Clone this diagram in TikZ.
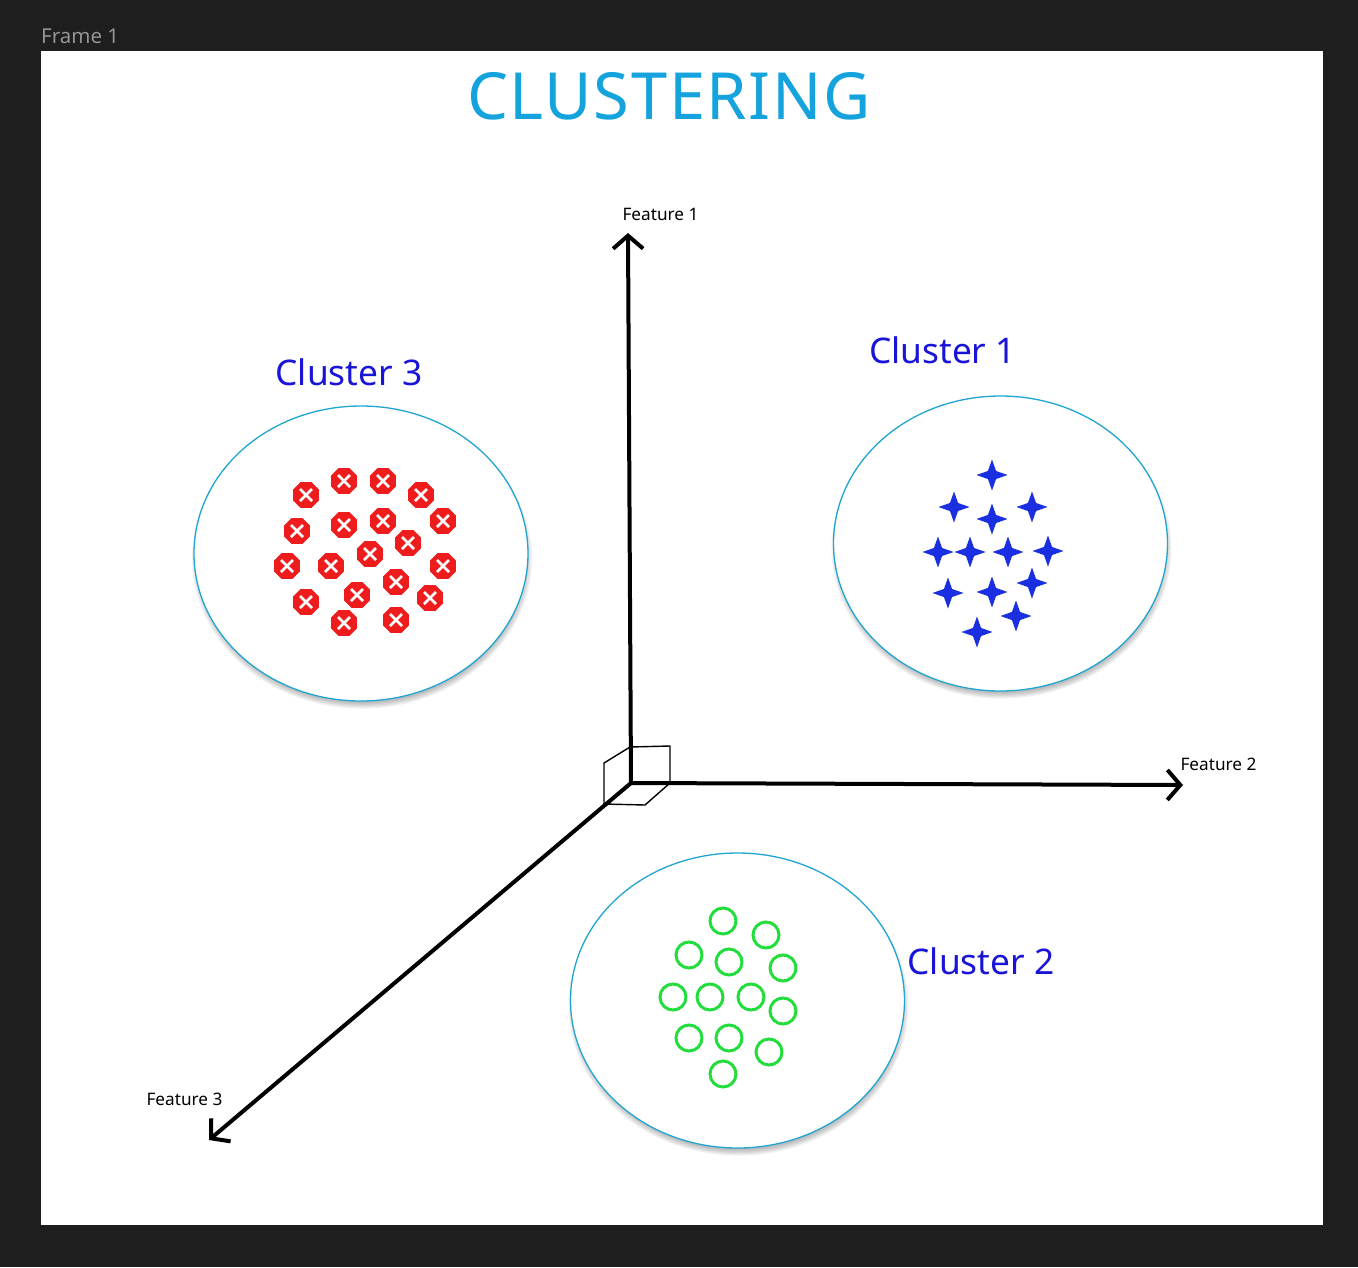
\documentclass[tikz,border=0pt]{standalone}
\usepackage{fontspec}
\setmainfont{Noto Sans}
\usetikzlibrary{shapes.geometric,arrows.meta}
\definecolor{framebg}{HTML}{1E1E1E}
\definecolor{titleblue}{HTML}{14A3DC}
\definecolor{clusterblue}{HTML}{1A14D8}
\definecolor{ringblue}{HTML}{1FA5D0}
\definecolor{starblue}{HTML}{1A2FE0}
\definecolor{crossred}{HTML}{EE1C1C}
\definecolor{ringgreen}{HTML}{22DD3C}
\tikzset{
  axis/.style={line width=4pt,-{Straight Barb[length=13pt,width=30pt,line width=4pt]}},
  cubeedge/.style={line width=1.4pt,black},
  clusterring/.style={ellipse,draw=ringblue,line width=1.3pt,fill=white,minimum width=334pt,minimum height=295pt,inner sep=0pt},
  clusterglow/.style={ellipse,fill=black,fill opacity=0.055,draw=none,minimum width=#1,minimum height=#1*0.883,inner sep=0pt},
  clusterlabel/.style={text=clusterblue,font=\fontsize{35.3}{40}\selectfont,inner sep=0pt},
  featurelabel/.style={text=black,font=\fontsize{17.2}{20}\selectfont,inner sep=0pt},
  starmark/.style={star,star points=4,star point ratio=2.7,fill=starblue,draw=none,minimum size=31pt,inner sep=0pt},
  circlemark/.style={circle,draw=ringgreen,line width=3pt,fill=none,minimum size=26pt,inner sep=0pt},
  crossmark/.style={regular polygon,regular polygon sides=8,fill=crossred,draw=none,minimum size=28pt,inner sep=0pt,
    path picture={\draw[white,line width=2.8pt,shift={(path picture bounding box.center)}] (-6,-6)--(6,6) (-6,6)--(6,-6);}},
}
\begin{document}
\begin{tikzpicture}[x=1pt,y=-1pt]
\useasboundingbox (0,0) rectangle (1358,1267);
\fill[framebg] (0,0) rectangle (1358,1267);
\fill[white] (41,51) rectangle (1323,1225);
\node[anchor=base west,text=white!58!black,font=\fontsize{20.5}{24}\selectfont,inner sep=0pt] (frame) at (41,43) {Frame 1};
\node[text=titleblue,font=\fontsize{65}{70}\selectfont\addfontfeature{LetterSpace=2.5},inner sep=0pt,anchor=base] (title) at (669,119) {CLUSTERING};

% cluster circles with soft shadows
\foreach \cx/\cy/\nm in {361/553.5/cthree,1000.5/543.5/cone,737.5/1000.5/ctwo}{
  \foreach \w in {340,337,334,331,328}{
    \node[clusterglow=\w pt] at (\cx+1,\cy+5) {};
  }
  \node[clusterring] (\nm) at (\cx,\cy) {};
}
\node[clusterlabel,anchor=base] (lthree) at (349,385) {Cluster 3};
\node[clusterlabel,anchor=base] (lone) at (942.5,363) {Cluster 1};
\node[clusterlabel,anchor=base] (ltwo) at (981,974) {Cluster 2};

% markers
\foreach \x/\y [count=\i] in {306/495,344/481,383/481,421/495,443/521,297/531,344/525,383/521,408/543,370/554,287/566,331/566,443/566,396/582,357/595,430/598,306/602,344/623,396/620}{
  \node[crossmark] (x\i) at (\x,\y) {};
}
\foreach \x/\y [count=\i] in {992/475,954/507,1032/507,992/519,938/552,970/552,1008/552,1048/551,1032/583,948/593,992/592,1016/616,977/632}{
  \node[starmark] (s\i) at (\x,\y) {};
}
\foreach \x/\y [count=\i] in {723/921,766/935,689/955,729/962,783/968,673/997,710/997,751/997,783/1011,689/1038,729/1038,769/1052,723/1074}{
  \node[circlemark] (g\i) at (\x,\y) {};
}

% cube
\coordinate (o) at (631,783);
\coordinate (ctl) at (630,747);
\coordinate (ctr) at (670,746);
\coordinate (cr) at (670,783);
\coordinate (cul) at (604,763);
\coordinate (cdl) at (604,804);
\coordinate (cbr) at (645,805);
\draw[cubeedge] (ctl) -- (ctr) -- (cr) -- (cbr) -- (cdl) -- (cul) -- (ctl);

% axes
\coordinate (e1) at (628,233);
\coordinate (e2) at (1183,785);
\coordinate (e3) at (209,1140);
\draw[axis] (o) -- (e1);
\draw[axis] (o) -- (e2);
\draw[axis] (o) -- (e3);
\node[featurelabel,anchor=base] (f1) at (660.5,220) {Feature 1};
\node[featurelabel,anchor=base] (f2) at (1218.5,770) {Feature 2};
\node[featurelabel,anchor=base] (f3) at (184.5,1105) {Feature 3};
\end{tikzpicture}
\end{document}
